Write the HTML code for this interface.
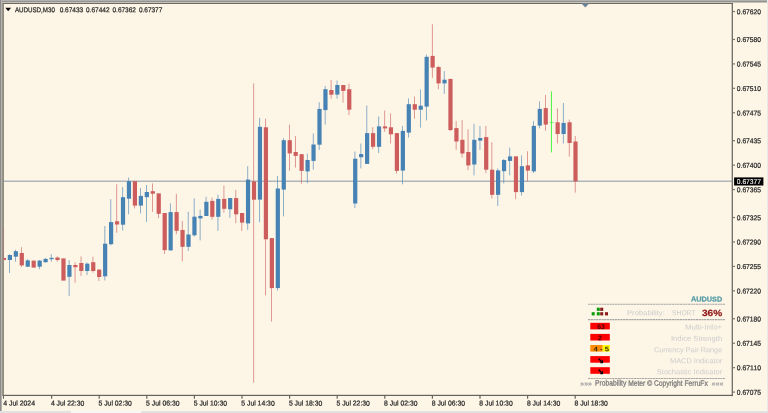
<!DOCTYPE html>
<html lang="en"><head><meta charset="utf-8"><title>AUDUSD,M30</title>
<style>
html,body{margin:0;padding:0;background:#fdf5e6;overflow:hidden}
body{width:768px;height:413px;position:relative}
svg{position:absolute;left:0;top:0;display:block}
text{font-family:"Liberation Sans",sans-serif;font-size:7.0px;fill:#2a2a2a}
.ax{stroke:#2a2a2a;stroke-width:0.24px}
.lg{fill:#cdcdcd;font-size:7.3px}
.num{font-size:6.8px;fill:#400000;font-weight:bold}
</style></head><body>
<svg width="768" height="413" viewBox="0 0 768 413">
<defs><filter id="bl" x="-5%" y="-5%" width="110%" height="110%"><feGaussianBlur stdDeviation="0.32"/></filter></defs>
<rect x="0.00" y="0.00" width="768.00" height="413.00" fill="#fdf5e6"/>
<g id="borders" shape-rendering="crispEdges">
<rect x="0.00" y="0.00" width="767.00" height="1.00" fill="#b0b0b0"/>
<rect x="0.00" y="1.00" width="767.00" height="1.00" fill="#939390"/>
<rect x="2.00" y="2.00" width="765.00" height="1.00" fill="#c6c2b6"/>
<rect x="2.00" y="3.00" width="731.00" height="1.00" fill="#6e6a68"/>
<rect x="0.00" y="0.00" width="1.00" height="411.00" fill="#8c8c8c"/>
<rect x="1.00" y="1.00" width="1.00" height="410.00" fill="#b6b2aa"/>
<rect x="2.00" y="3.00" width="1.00" height="393.00" fill="#98948c"/>
<rect x="3.00" y="4.00" width="1.00" height="392.00" fill="#908c80"/>
<rect x="767.00" y="0.00" width="1.00" height="413.00" fill="#e9e9e7"/>
<rect x="0.00" y="411.00" width="768.00" height="2.00" fill="#e2e2e2"/>
<rect x="71.00" y="411.00" width="70.00" height="2.00" fill="#f8f8f8"/>
</g>
<g id="all" filter="url(#bl)">
<rect x="731.70" y="3.20" width="1.15" height="393.00" fill="#5e5c58"/>
<rect x="4.00" y="394.80" width="728.80" height="1.15" fill="#5e5c58"/>
<path d="M581.2 3.2 L589.4 3.2 L585.3 7.5 Z" fill="#6f8499"/>
<rect x="3.60" y="180.70" width="728.40" height="0.90" fill="#7c8e9e"/>
<g id="candles">
<rect x="3.23" y="227.60" width="0.80" height="32.40" fill="#cd5c5c" opacity="0.76"/>
<rect x="1.83" y="257.90" width="4.20" height="2.10" fill="#cd5c5c"/>
<rect x="9.18" y="254.20" width="0.80" height="18.90" fill="#4682b4" opacity="0.76"/>
<rect x="7.78" y="255.00" width="4.20" height="5.00" fill="#4682b4"/>
<rect x="15.14" y="249.70" width="0.80" height="12.00" fill="#4682b4" opacity="0.76"/>
<rect x="13.74" y="251.20" width="4.20" height="5.50" fill="#4682b4"/>
<rect x="21.09" y="247.20" width="0.80" height="19.80" fill="#cd5c5c" opacity="0.76"/>
<rect x="19.69" y="253.00" width="4.20" height="12.40" fill="#cd5c5c"/>
<rect x="27.05" y="259.20" width="0.80" height="7.80" fill="#4682b4" opacity="0.76"/>
<rect x="25.65" y="260.40" width="4.20" height="6.30" fill="#4682b4"/>
<rect x="31.60" y="260.60" width="4.20" height="7.00" fill="#cd5c5c"/>
<rect x="38.95" y="260.00" width="0.80" height="9.20" fill="#4682b4" opacity="0.76"/>
<rect x="37.55" y="260.60" width="4.20" height="6.10" fill="#4682b4"/>
<rect x="44.91" y="258.00" width="0.80" height="4.60" fill="#4682b4" opacity="0.76"/>
<rect x="43.51" y="258.90" width="4.20" height="3.30" fill="#4682b4"/>
<rect x="50.86" y="254.20" width="0.80" height="7.50" fill="#4682b4" opacity="0.76"/>
<rect x="49.46" y="257.90" width="4.20" height="1.30" fill="#4682b4"/>
<rect x="56.82" y="256.40" width="0.80" height="5.30" fill="#cd5c5c" opacity="0.76"/>
<rect x="55.42" y="257.50" width="4.20" height="2.50" fill="#cd5c5c"/>
<rect x="61.37" y="258.40" width="4.20" height="22.20" fill="#cd5c5c"/>
<rect x="68.72" y="260.00" width="0.80" height="36.00" fill="#4682b4" opacity="0.76"/>
<rect x="67.32" y="265.00" width="4.20" height="11.80" fill="#4682b4"/>
<rect x="74.68" y="262.50" width="0.80" height="20.10" fill="#cd5c5c" opacity="0.76"/>
<rect x="73.28" y="265.00" width="4.20" height="2.20" fill="#cd5c5c"/>
<rect x="80.63" y="256.40" width="0.80" height="19.60" fill="#cd5c5c" opacity="0.76"/>
<rect x="79.23" y="263.00" width="4.20" height="8.00" fill="#cd5c5c"/>
<rect x="86.59" y="262.50" width="0.80" height="12.50" fill="#4682b4" opacity="0.76"/>
<rect x="85.19" y="263.70" width="4.20" height="7.30" fill="#4682b4"/>
<rect x="92.54" y="256.70" width="0.80" height="15.90" fill="#cd5c5c" opacity="0.76"/>
<rect x="91.14" y="262.20" width="4.20" height="8.80" fill="#cd5c5c"/>
<rect x="98.49" y="269.20" width="0.80" height="11.80" fill="#cd5c5c" opacity="0.76"/>
<rect x="97.09" y="269.60" width="4.20" height="7.40" fill="#cd5c5c"/>
<rect x="104.45" y="226.00" width="0.80" height="54.50" fill="#4682b4" opacity="0.76"/>
<rect x="103.05" y="243.70" width="4.20" height="32.60" fill="#4682b4"/>
<rect x="110.40" y="199.20" width="0.80" height="46.20" fill="#4682b4" opacity="0.76"/>
<rect x="109.00" y="222.10" width="4.20" height="22.10" fill="#4682b4"/>
<rect x="116.36" y="184.20" width="0.80" height="48.50" fill="#cd5c5c" opacity="0.76"/>
<rect x="114.96" y="221.30" width="4.20" height="3.20" fill="#cd5c5c"/>
<rect x="122.31" y="187.00" width="0.80" height="43.50" fill="#4682b4" opacity="0.76"/>
<rect x="120.91" y="197.20" width="4.20" height="27.50" fill="#4682b4"/>
<rect x="128.26" y="177.50" width="0.80" height="36.80" fill="#4682b4" opacity="0.76"/>
<rect x="126.86" y="181.20" width="4.20" height="17.50" fill="#4682b4"/>
<rect x="134.22" y="181.20" width="0.80" height="27.20" fill="#cd5c5c" opacity="0.76"/>
<rect x="132.82" y="181.20" width="4.20" height="24.40" fill="#cd5c5c"/>
<rect x="140.17" y="188.00" width="0.80" height="25.40" fill="#4682b4" opacity="0.76"/>
<rect x="138.77" y="195.90" width="4.20" height="9.70" fill="#4682b4"/>
<rect x="146.13" y="185.00" width="0.80" height="36.80" fill="#4682b4" opacity="0.76"/>
<rect x="144.73" y="192.00" width="4.20" height="5.20" fill="#4682b4"/>
<rect x="152.08" y="183.40" width="0.80" height="28.40" fill="#cd5c5c" opacity="0.76"/>
<rect x="150.68" y="191.20" width="4.20" height="2.50" fill="#cd5c5c"/>
<rect x="158.03" y="193.40" width="0.80" height="24.60" fill="#cd5c5c" opacity="0.76"/>
<rect x="156.63" y="193.40" width="4.20" height="20.40" fill="#cd5c5c"/>
<rect x="163.99" y="213.00" width="0.80" height="40.80" fill="#cd5c5c" opacity="0.76"/>
<rect x="162.59" y="213.00" width="4.20" height="37.10" fill="#cd5c5c"/>
<rect x="169.94" y="203.40" width="0.80" height="47.00" fill="#4682b4" opacity="0.76"/>
<rect x="168.54" y="212.10" width="4.20" height="38.30" fill="#4682b4"/>
<rect x="175.90" y="193.90" width="0.80" height="40.40" fill="#cd5c5c" opacity="0.76"/>
<rect x="174.50" y="212.10" width="4.20" height="18.70" fill="#cd5c5c"/>
<rect x="181.85" y="220.90" width="0.80" height="40.40" fill="#cd5c5c" opacity="0.76"/>
<rect x="180.45" y="230.00" width="4.20" height="16.80" fill="#cd5c5c"/>
<rect x="187.80" y="211.80" width="0.80" height="39.10" fill="#4682b4" opacity="0.76"/>
<rect x="186.40" y="234.50" width="4.20" height="12.30" fill="#4682b4"/>
<rect x="193.76" y="198.40" width="0.80" height="38.10" fill="#4682b4" opacity="0.76"/>
<rect x="192.36" y="216.70" width="4.20" height="18.60" fill="#4682b4"/>
<rect x="199.71" y="209.60" width="0.80" height="30.80" fill="#4682b4" opacity="0.76"/>
<rect x="198.31" y="215.90" width="4.20" height="2.50" fill="#4682b4"/>
<rect x="205.67" y="196.70" width="0.80" height="19.30" fill="#4682b4" opacity="0.76"/>
<rect x="204.27" y="201.80" width="4.20" height="14.20" fill="#4682b4"/>
<rect x="211.62" y="197.60" width="0.80" height="22.00" fill="#cd5c5c" opacity="0.76"/>
<rect x="210.22" y="200.90" width="4.20" height="15.90" fill="#cd5c5c"/>
<rect x="217.57" y="194.70" width="0.80" height="36.10" fill="#4682b4" opacity="0.76"/>
<rect x="216.17" y="198.90" width="4.20" height="17.90" fill="#4682b4"/>
<rect x="223.53" y="185.50" width="0.80" height="27.10" fill="#cd5c5c" opacity="0.76"/>
<rect x="222.13" y="198.90" width="4.20" height="9.90" fill="#cd5c5c"/>
<rect x="229.48" y="198.00" width="0.80" height="19.80" fill="#4682b4" opacity="0.76"/>
<rect x="228.08" y="198.00" width="4.20" height="11.30" fill="#4682b4"/>
<rect x="235.44" y="190.00" width="0.80" height="33.10" fill="#cd5c5c" opacity="0.76"/>
<rect x="234.04" y="198.10" width="4.20" height="16.20" fill="#cd5c5c"/>
<rect x="241.39" y="213.00" width="0.80" height="17.90" fill="#cd5c5c" opacity="0.76"/>
<rect x="239.99" y="213.00" width="4.20" height="9.60" fill="#cd5c5c"/>
<rect x="247.34" y="166.20" width="0.80" height="63.60" fill="#4682b4" opacity="0.76"/>
<rect x="245.94" y="179.60" width="4.20" height="43.80" fill="#4682b4"/>
<rect x="253.30" y="83.40" width="0.80" height="299.30" fill="#cd5c5c" opacity="0.76"/>
<rect x="251.90" y="181.40" width="4.20" height="18.30" fill="#cd5c5c"/>
<rect x="259.25" y="117.90" width="0.80" height="104.30" fill="#4682b4" opacity="0.76"/>
<rect x="257.85" y="126.80" width="4.20" height="72.80" fill="#4682b4"/>
<rect x="265.21" y="118.80" width="0.80" height="176.60" fill="#cd5c5c" opacity="0.76"/>
<rect x="263.81" y="127.30" width="4.20" height="112.00" fill="#cd5c5c"/>
<rect x="271.16" y="238.10" width="0.80" height="83.40" fill="#cd5c5c" opacity="0.76"/>
<rect x="269.76" y="238.10" width="4.20" height="50.00" fill="#cd5c5c"/>
<rect x="277.11" y="175.90" width="0.80" height="114.70" fill="#4682b4" opacity="0.76"/>
<rect x="275.71" y="188.50" width="4.20" height="99.60" fill="#4682b4"/>
<rect x="283.07" y="138.20" width="0.80" height="78.20" fill="#4682b4" opacity="0.76"/>
<rect x="281.67" y="140.20" width="4.20" height="49.40" fill="#4682b4"/>
<rect x="289.02" y="124.60" width="0.80" height="46.00" fill="#cd5c5c" opacity="0.76"/>
<rect x="287.62" y="140.20" width="4.20" height="13.20" fill="#cd5c5c"/>
<rect x="294.98" y="136.00" width="0.80" height="31.60" fill="#cd5c5c" opacity="0.76"/>
<rect x="293.58" y="152.00" width="4.20" height="3.90" fill="#cd5c5c"/>
<rect x="300.93" y="154.20" width="0.80" height="29.60" fill="#cd5c5c" opacity="0.76"/>
<rect x="299.53" y="154.20" width="4.20" height="16.70" fill="#cd5c5c"/>
<rect x="306.88" y="153.70" width="0.80" height="29.40" fill="#4682b4" opacity="0.76"/>
<rect x="305.48" y="160.00" width="4.20" height="11.40" fill="#4682b4"/>
<rect x="312.84" y="133.50" width="0.80" height="36.20" fill="#4682b4" opacity="0.76"/>
<rect x="311.44" y="144.50" width="4.20" height="16.40" fill="#4682b4"/>
<rect x="318.79" y="102.20" width="0.80" height="47.80" fill="#4682b4" opacity="0.76"/>
<rect x="317.39" y="108.90" width="4.20" height="35.80" fill="#4682b4"/>
<rect x="324.75" y="85.90" width="0.80" height="38.70" fill="#4682b4" opacity="0.76"/>
<rect x="323.35" y="89.20" width="4.20" height="20.90" fill="#4682b4"/>
<rect x="330.70" y="80.00" width="0.80" height="18.70" fill="#cd5c5c" opacity="0.76"/>
<rect x="329.30" y="90.00" width="4.20" height="4.70" fill="#cd5c5c"/>
<rect x="336.65" y="80.50" width="0.80" height="18.20" fill="#4682b4" opacity="0.76"/>
<rect x="335.25" y="85.00" width="4.20" height="9.60" fill="#4682b4"/>
<rect x="342.61" y="85.00" width="0.80" height="17.60" fill="#cd5c5c" opacity="0.76"/>
<rect x="341.21" y="85.00" width="4.20" height="5.90" fill="#cd5c5c"/>
<rect x="348.56" y="83.70" width="0.80" height="31.40" fill="#cd5c5c" opacity="0.76"/>
<rect x="347.16" y="89.20" width="4.20" height="20.50" fill="#cd5c5c"/>
<rect x="354.52" y="151.50" width="0.80" height="56.50" fill="#4682b4" opacity="0.76"/>
<rect x="353.12" y="158.70" width="4.20" height="44.80" fill="#4682b4"/>
<rect x="360.47" y="143.50" width="0.80" height="24.90" fill="#4682b4" opacity="0.76"/>
<rect x="359.07" y="154.10" width="4.20" height="3.10" fill="#4682b4"/>
<rect x="366.42" y="105.40" width="0.80" height="58.50" fill="#4682b4" opacity="0.76"/>
<rect x="365.02" y="133.10" width="4.20" height="30.80" fill="#4682b4"/>
<rect x="372.38" y="127.10" width="0.80" height="22.20" fill="#cd5c5c" opacity="0.76"/>
<rect x="370.98" y="133.10" width="4.20" height="13.70" fill="#cd5c5c"/>
<rect x="378.33" y="116.40" width="0.80" height="36.70" fill="#4682b4" opacity="0.76"/>
<rect x="376.93" y="126.40" width="4.20" height="20.40" fill="#4682b4"/>
<rect x="384.29" y="110.60" width="0.80" height="21.20" fill="#cd5c5c" opacity="0.76"/>
<rect x="382.89" y="126.40" width="4.20" height="2.00" fill="#cd5c5c"/>
<rect x="390.24" y="113.40" width="0.80" height="30.10" fill="#cd5c5c" opacity="0.76"/>
<rect x="388.84" y="127.30" width="4.20" height="7.00" fill="#cd5c5c"/>
<rect x="396.19" y="133.10" width="0.80" height="40.60" fill="#cd5c5c" opacity="0.76"/>
<rect x="394.79" y="133.10" width="4.20" height="37.80" fill="#cd5c5c"/>
<rect x="402.15" y="125.90" width="0.80" height="58.40" fill="#4682b4" opacity="0.76"/>
<rect x="400.75" y="130.90" width="4.20" height="39.70" fill="#4682b4"/>
<rect x="408.10" y="98.40" width="0.80" height="39.20" fill="#4682b4" opacity="0.76"/>
<rect x="406.70" y="104.20" width="4.20" height="28.40" fill="#4682b4"/>
<rect x="414.06" y="96.40" width="0.80" height="22.30" fill="#cd5c5c" opacity="0.76"/>
<rect x="412.66" y="104.20" width="4.20" height="5.50" fill="#cd5c5c"/>
<rect x="420.01" y="89.60" width="0.80" height="38.00" fill="#4682b4" opacity="0.76"/>
<rect x="418.61" y="105.70" width="4.20" height="4.00" fill="#4682b4"/>
<rect x="425.96" y="54.60" width="0.80" height="65.80" fill="#4682b4" opacity="0.76"/>
<rect x="424.56" y="56.80" width="4.20" height="49.80" fill="#4682b4"/>
<rect x="431.92" y="24.20" width="0.80" height="53.60" fill="#cd5c5c" opacity="0.76"/>
<rect x="430.52" y="55.90" width="4.20" height="11.70" fill="#cd5c5c"/>
<rect x="437.87" y="65.90" width="0.80" height="23.30" fill="#cd5c5c" opacity="0.76"/>
<rect x="436.47" y="67.00" width="4.20" height="16.40" fill="#cd5c5c"/>
<rect x="443.83" y="71.10" width="0.80" height="22.70" fill="#4682b4" opacity="0.76"/>
<rect x="442.43" y="79.70" width="4.20" height="3.70" fill="#4682b4"/>
<rect x="449.78" y="78.90" width="0.80" height="52.10" fill="#cd5c5c" opacity="0.76"/>
<rect x="448.38" y="78.90" width="4.20" height="51.20" fill="#cd5c5c"/>
<rect x="455.73" y="120.90" width="0.80" height="28.90" fill="#cd5c5c" opacity="0.76"/>
<rect x="454.33" y="128.10" width="4.20" height="13.40" fill="#cd5c5c"/>
<rect x="461.69" y="120.10" width="0.80" height="37.50" fill="#cd5c5c" opacity="0.76"/>
<rect x="460.29" y="139.80" width="4.20" height="13.70" fill="#cd5c5c"/>
<rect x="467.64" y="129.30" width="0.80" height="40.80" fill="#cd5c5c" opacity="0.76"/>
<rect x="466.24" y="152.00" width="4.20" height="13.40" fill="#cd5c5c"/>
<rect x="473.60" y="123.90" width="0.80" height="51.50" fill="#4682b4" opacity="0.76"/>
<rect x="472.20" y="139.80" width="4.20" height="24.70" fill="#4682b4"/>
<rect x="479.55" y="125.90" width="0.80" height="24.00" fill="#4682b4" opacity="0.76"/>
<rect x="478.15" y="138.00" width="4.20" height="2.60" fill="#4682b4"/>
<rect x="485.50" y="125.90" width="0.80" height="47.20" fill="#cd5c5c" opacity="0.76"/>
<rect x="484.10" y="137.10" width="4.20" height="32.60" fill="#cd5c5c"/>
<rect x="491.46" y="142.30" width="0.80" height="56.20" fill="#cd5c5c" opacity="0.76"/>
<rect x="490.06" y="169.70" width="4.20" height="25.10" fill="#cd5c5c"/>
<rect x="497.41" y="168.40" width="0.80" height="37.60" fill="#4682b4" opacity="0.76"/>
<rect x="496.01" y="170.40" width="4.20" height="24.40" fill="#4682b4"/>
<rect x="503.37" y="158.90" width="0.80" height="24.50" fill="#4682b4" opacity="0.76"/>
<rect x="501.97" y="160.00" width="4.20" height="11.20" fill="#4682b4"/>
<rect x="509.32" y="147.70" width="0.80" height="27.70" fill="#4682b4" opacity="0.76"/>
<rect x="507.92" y="156.40" width="4.20" height="4.50" fill="#4682b4"/>
<rect x="515.27" y="156.40" width="0.80" height="42.90" fill="#cd5c5c" opacity="0.76"/>
<rect x="513.87" y="156.40" width="4.20" height="35.70" fill="#cd5c5c"/>
<rect x="521.23" y="155.40" width="0.80" height="40.10" fill="#4682b4" opacity="0.76"/>
<rect x="519.83" y="166.20" width="4.20" height="25.90" fill="#4682b4"/>
<rect x="527.18" y="151.30" width="0.80" height="30.00" fill="#cd5c5c" opacity="0.76"/>
<rect x="525.78" y="165.40" width="4.20" height="5.20" fill="#cd5c5c"/>
<rect x="533.14" y="120.90" width="0.80" height="52.20" fill="#4682b4" opacity="0.76"/>
<rect x="531.74" y="125.90" width="4.20" height="45.50" fill="#4682b4"/>
<rect x="539.09" y="101.40" width="0.80" height="27.00" fill="#4682b4" opacity="0.76"/>
<rect x="537.69" y="108.90" width="4.20" height="16.70" fill="#4682b4"/>
<rect x="545.04" y="95.00" width="0.80" height="35.60" fill="#cd5c5c" opacity="0.76"/>
<rect x="543.64" y="108.10" width="4.20" height="16.50" fill="#cd5c5c"/>
<rect x="550.95" y="91.40" width="0.90" height="61.00" fill="#2cf52c" opacity="0.95"/>
<rect x="549.60" y="122.15" width="4.20" height="0.90" fill="#2cf52c" opacity="0.62"/>
<rect x="556.95" y="108.40" width="0.80" height="35.10" fill="#cd5c5c" opacity="0.76"/>
<rect x="555.55" y="122.30" width="4.20" height="11.70" fill="#cd5c5c"/>
<rect x="562.91" y="103.00" width="0.80" height="40.50" fill="#4682b4" opacity="0.76"/>
<rect x="561.51" y="122.90" width="4.20" height="11.10" fill="#4682b4"/>
<rect x="568.86" y="119.60" width="0.80" height="37.10" fill="#cd5c5c" opacity="0.76"/>
<rect x="567.46" y="122.30" width="4.20" height="20.70" fill="#cd5c5c"/>
<rect x="574.81" y="136.00" width="0.80" height="56.60" fill="#cd5c5c" opacity="0.76"/>
<rect x="573.41" y="141.50" width="4.20" height="39.90" fill="#cd5c5c"/>
</g>
</g>
<g id="borders2" shape-rendering="crispEdges">
<rect x="0.00" y="200.00" width="1.00" height="100.00" fill="#8c8c8c"/>
<rect x="1.00" y="200.00" width="1.00" height="100.00" fill="#b6b2aa"/>
<rect x="2.00" y="200.00" width="1.00" height="100.00" fill="#98948c"/>
<rect x="3.00" y="200.00" width="1.00" height="100.00" fill="#908c80" opacity="0.55"/>
</g>
<g id="all2" filter="url(#bl)">
<rect x="732.60" y="10.90" width="2.40" height="1.25" fill="#7c7872"/>
<text transform="translate(736.80,14.15) rotate(0.05)" class="ax" textLength="24.2" lengthAdjust="spacingAndGlyphs">0.67620</text>
<rect x="732.60" y="38.83" width="2.40" height="1.25" fill="#7c7872"/>
<text transform="translate(736.80,42.08) rotate(0.05)" class="ax" textLength="24.2" lengthAdjust="spacingAndGlyphs">0.67580</text>
<rect x="732.60" y="63.27" width="2.40" height="1.25" fill="#7c7872"/>
<text transform="translate(736.80,66.52) rotate(0.05)" class="ax" textLength="24.2" lengthAdjust="spacingAndGlyphs">0.67545</text>
<rect x="732.60" y="87.71" width="2.40" height="1.25" fill="#7c7872"/>
<text transform="translate(736.80,90.96) rotate(0.05)" class="ax" textLength="24.2" lengthAdjust="spacingAndGlyphs">0.67510</text>
<rect x="732.60" y="112.15" width="2.40" height="1.25" fill="#7c7872"/>
<text transform="translate(736.80,115.40) rotate(0.05)" class="ax" textLength="24.2" lengthAdjust="spacingAndGlyphs">0.67475</text>
<rect x="732.60" y="140.09" width="2.40" height="1.25" fill="#7c7872"/>
<text transform="translate(736.80,143.34) rotate(0.05)" class="ax" textLength="24.2" lengthAdjust="spacingAndGlyphs">0.67435</text>
<rect x="732.60" y="164.53" width="2.40" height="1.25" fill="#7c7872"/>
<text transform="translate(736.80,167.78) rotate(0.05)" class="ax" textLength="24.2" lengthAdjust="spacingAndGlyphs">0.67400</text>
<rect x="732.60" y="188.97" width="2.40" height="1.25" fill="#7c7872"/>
<text transform="translate(736.80,192.22) rotate(0.05)" class="ax" textLength="24.2" lengthAdjust="spacingAndGlyphs">0.67365</text>
<rect x="732.60" y="216.90" width="2.40" height="1.25" fill="#7c7872"/>
<text transform="translate(736.80,220.15) rotate(0.05)" class="ax" textLength="24.2" lengthAdjust="spacingAndGlyphs">0.67325</text>
<rect x="732.60" y="241.34" width="2.40" height="1.25" fill="#7c7872"/>
<text transform="translate(736.80,244.59) rotate(0.05)" class="ax" textLength="24.2" lengthAdjust="spacingAndGlyphs">0.67290</text>
<rect x="732.60" y="265.78" width="2.40" height="1.25" fill="#7c7872"/>
<text transform="translate(736.80,269.03) rotate(0.05)" class="ax" textLength="24.2" lengthAdjust="spacingAndGlyphs">0.67255</text>
<rect x="732.60" y="290.22" width="2.40" height="1.25" fill="#7c7872"/>
<text transform="translate(736.80,293.47) rotate(0.05)" class="ax" textLength="24.2" lengthAdjust="spacingAndGlyphs">0.67220</text>
<rect x="732.60" y="318.15" width="2.40" height="1.25" fill="#7c7872"/>
<text transform="translate(736.80,321.40) rotate(0.05)" class="ax" textLength="24.2" lengthAdjust="spacingAndGlyphs">0.67180</text>
<rect x="732.60" y="342.59" width="2.40" height="1.25" fill="#7c7872"/>
<text transform="translate(736.80,345.84) rotate(0.05)" class="ax" textLength="24.2" lengthAdjust="spacingAndGlyphs">0.67145</text>
<rect x="732.60" y="367.03" width="2.40" height="1.25" fill="#7c7872"/>
<text transform="translate(736.80,370.28) rotate(0.05)" class="ax" textLength="24.2" lengthAdjust="spacingAndGlyphs">0.67110</text>
<rect x="732.60" y="391.47" width="2.40" height="1.25" fill="#7c7872"/>
<text transform="translate(736.80,394.72) rotate(0.05)" class="ax" textLength="24.2" lengthAdjust="spacingAndGlyphs">0.67075</text>
<rect x="734.10" y="177.40" width="29.30" height="8.10" fill="#000"/>
<text transform="translate(736.80,183.95) rotate(0.05)" style="fill:#fff;stroke:#fff;stroke-width:0.1px" textLength="24.2" lengthAdjust="spacingAndGlyphs">0.67377</text>
<rect x="2.90" y="395.20" width="1.10" height="3.50" fill="#66625c"/>
<text transform="translate(3.30,405.60) rotate(0.05)" class="ax" textLength="31.7" lengthAdjust="spacingAndGlyphs">4 Jul 2024</text>
<rect x="51.00" y="395.20" width="1.20" height="3.50" fill="#66625c"/>
<text transform="translate(50.90,405.60) rotate(0.05)" class="ax" textLength="33.4" lengthAdjust="spacingAndGlyphs">4 Jul 22:30</text>
<rect x="98.60" y="395.20" width="1.20" height="3.50" fill="#66625c"/>
<text transform="translate(98.50,405.60) rotate(0.05)" class="ax" textLength="33.4" lengthAdjust="spacingAndGlyphs">5 Jul 02:30</text>
<rect x="146.20" y="395.20" width="1.20" height="3.50" fill="#66625c"/>
<text transform="translate(146.10,405.60) rotate(0.05)" class="ax" textLength="33.4" lengthAdjust="spacingAndGlyphs">5 Jul 06:30</text>
<rect x="193.80" y="395.20" width="1.20" height="3.50" fill="#66625c"/>
<text transform="translate(193.70,405.60) rotate(0.05)" class="ax" textLength="33.4" lengthAdjust="spacingAndGlyphs">5 Jul 10:30</text>
<rect x="241.40" y="395.20" width="1.20" height="3.50" fill="#66625c"/>
<text transform="translate(241.30,405.60) rotate(0.05)" class="ax" textLength="33.4" lengthAdjust="spacingAndGlyphs">5 Jul 14:30</text>
<rect x="289.00" y="395.20" width="1.20" height="3.50" fill="#66625c"/>
<text transform="translate(288.90,405.60) rotate(0.05)" class="ax" textLength="33.4" lengthAdjust="spacingAndGlyphs">5 Jul 18:30</text>
<rect x="336.60" y="395.20" width="1.20" height="3.50" fill="#66625c"/>
<text transform="translate(336.50,405.60) rotate(0.05)" class="ax" textLength="33.4" lengthAdjust="spacingAndGlyphs">5 Jul 22:30</text>
<rect x="384.20" y="395.20" width="1.20" height="3.50" fill="#66625c"/>
<text transform="translate(384.10,405.60) rotate(0.05)" class="ax" textLength="33.4" lengthAdjust="spacingAndGlyphs">8 Jul 02:30</text>
<rect x="431.80" y="395.20" width="1.20" height="3.50" fill="#66625c"/>
<text transform="translate(431.70,405.60) rotate(0.05)" class="ax" textLength="33.4" lengthAdjust="spacingAndGlyphs">8 Jul 06:30</text>
<rect x="479.40" y="395.20" width="1.20" height="3.50" fill="#66625c"/>
<text transform="translate(479.30,405.60) rotate(0.05)" class="ax" textLength="33.4" lengthAdjust="spacingAndGlyphs">8 Jul 10:30</text>
<rect x="527.00" y="395.20" width="1.20" height="3.50" fill="#66625c"/>
<text transform="translate(526.90,405.60) rotate(0.05)" class="ax" textLength="33.4" lengthAdjust="spacingAndGlyphs">8 Jul 14:30</text>
<rect x="574.60" y="395.20" width="1.20" height="3.50" fill="#66625c"/>
<text transform="translate(574.50,405.60) rotate(0.05)" class="ax" textLength="33.4" lengthAdjust="spacingAndGlyphs">8 Jul 18:30</text>
<path d="M5.3 7.7 L11.1 7.7 L8.2 11.3 Z" fill="#111"/>
<g id="title">
<text transform="translate(14.90,12.20) rotate(0.05)" class="ax" textLength="40.0" lengthAdjust="spacingAndGlyphs">AUDUSD,M30</text>
<text transform="translate(59.70,12.20) rotate(0.05)" class="ax" textLength="23.4" lengthAdjust="spacingAndGlyphs">0.67433</text>
<text transform="translate(86.10,12.20) rotate(0.05)" class="ax" textLength="23.4" lengthAdjust="spacingAndGlyphs">0.67442</text>
<text transform="translate(112.50,12.20) rotate(0.05)" class="ax" textLength="23.4" lengthAdjust="spacingAndGlyphs">0.67362</text>
<text transform="translate(138.90,12.20) rotate(0.05)" class="ax" textLength="23.4" lengthAdjust="spacingAndGlyphs">0.67377</text>
</g>
<g id="panel">
<text transform="translate(722.20,301.40) rotate(0.05)" style="font-weight:bold;font-size:6.9px;fill:#5b9fa8;stroke:#5b9fa8;stroke-width:0.3px" text-anchor="end" textLength="31.2" lengthAdjust="spacingAndGlyphs">AUDUSD</text>
<line x1="588" y1="304.3" x2="725" y2="304.3" stroke="#a6a6a6" stroke-width="1.1" stroke-dasharray="2.2 0.5"/>
<line x1="588" y1="319.6" x2="725" y2="319.6" stroke="#a6a6a6" stroke-width="1.1" stroke-dasharray="2.2 0.5"/>
<line x1="588" y1="378.5" x2="725" y2="378.5" stroke="#a6a6a6" stroke-width="1.1" stroke-dasharray="2.2 0.5"/>
<rect x="596.80" y="307.70" width="3.00" height="3.20" fill="#0a9a0a"/>
<rect x="600.20" y="307.70" width="3.00" height="3.20" fill="#8b1a1a"/>
<rect x="591.70" y="312.20" width="3.00" height="3.20" fill="#0a9a0a"/>
<rect x="596.80" y="312.20" width="3.00" height="3.20" fill="#0a9a0a"/>
<rect x="600.20" y="312.20" width="3.00" height="3.20" fill="#8b1a1a"/>
<rect x="605.00" y="312.20" width="3.00" height="3.20" fill="#8b1a1a"/>
<text transform="translate(627.00,315.20) rotate(0.05)" class="lg" textLength="37.8" lengthAdjust="spacingAndGlyphs">Probability:</text>
<text transform="translate(672.10,315.20) rotate(0.05)" class="lg" textLength="23.3" lengthAdjust="spacingAndGlyphs">SHORT</text>
<text transform="translate(702.00,315.90) rotate(0.05)" style="font-weight:bold;font-size:9px;fill:#8e1616;stroke:#8e1616;stroke-width:0.2px" textLength="20.2" lengthAdjust="spacingAndGlyphs">36%</text>
<text transform="translate(722.20,329.50) rotate(0.05)" class="lg" text-anchor="end" textLength="37.2" lengthAdjust="spacingAndGlyphs">Multi-Info+</text>
<rect x="590.30" y="322.80" width="19.50" height="6.60" fill="#ff0000"/>
<text transform="translate(601.00,329.10) rotate(0.05)" class="num" text-anchor="middle">63</text>
<text transform="translate(722.20,340.90) rotate(0.05)" class="lg" text-anchor="end" textLength="51.3" lengthAdjust="spacingAndGlyphs">Indice Strength</text>
<rect x="590.30" y="333.90" width="19.50" height="6.60" fill="#ff0000"/>
<text transform="translate(600.00,340.20) rotate(0.05)" class="num" text-anchor="middle">2</text>
<text transform="translate(722.20,352.20) rotate(0.05)" class="lg" text-anchor="end" textLength="68.3" lengthAdjust="spacingAndGlyphs">Currency Pair Range</text>
<rect x="590.30" y="345.00" width="12.40" height="6.60" fill="#ff8c00"/>
<rect x="602.70" y="345.00" width="7.10" height="6.60" fill="#ffff00"/>
<text transform="translate(593.40,351.20) rotate(0.05)" class="num" style="fill:#3a2a00;font-size:6.4px" textLength="15.6" lengthAdjust="spacingAndGlyphs" xml:space="preserve">4 - 5</text>
<text transform="translate(722.20,363.20) rotate(0.05)" class="lg" text-anchor="end" textLength="52.2" lengthAdjust="spacingAndGlyphs">MACD Indicator</text>
<rect x="590.30" y="356.10" width="19.50" height="6.60" fill="#ff0000"/>
<text transform="translate(600.75,363.40) rotate(0.05)" style="font-family:&quot;DejaVu Sans&quot;,sans-serif;font-weight:bold;fill:#000;font-size:7.6px;stroke:#000;stroke-width:0.4px" text-anchor="middle">&#8600;</text>
<text transform="translate(722.20,374.30) rotate(0.05)" class="lg" text-anchor="end" textLength="65.4" lengthAdjust="spacingAndGlyphs">Stochastic Indicator</text>
<rect x="590.30" y="367.20" width="19.50" height="6.60" fill="#ff0000"/>
<text transform="translate(600.75,374.50) rotate(0.05)" style="font-family:&quot;DejaVu Sans&quot;,sans-serif;font-weight:bold;fill:#000;font-size:7.6px;stroke:#000;stroke-width:0.4px" text-anchor="middle">&#8600;</text>
<text transform="translate(580.30,386.00) rotate(0.05)" style="font-size:7px;font-weight:bold;fill:#a6a6a6;stroke:#a6a6a6;stroke-width:0.2px" textLength="11.7" lengthAdjust="spacing">&#187;&#187;&#187;</text>
<text transform="translate(595.10,385.60) rotate(0.05)" style="font-size:7.8px;fill:#7a7a7a;stroke:#7a7a7a;stroke-width:0.28px" textLength="112.7" lengthAdjust="spacingAndGlyphs">Probability Meter &#169; Copyright FerruFx</text>
<text transform="translate(711.60,386.00) rotate(0.05)" style="font-size:7px;font-weight:bold;fill:#a6a6a6;stroke:#a6a6a6;stroke-width:0.2px" textLength="11.7" lengthAdjust="spacing">&#171;&#171;&#171;</text>
</g>
</g>
</svg>
</body></html>
